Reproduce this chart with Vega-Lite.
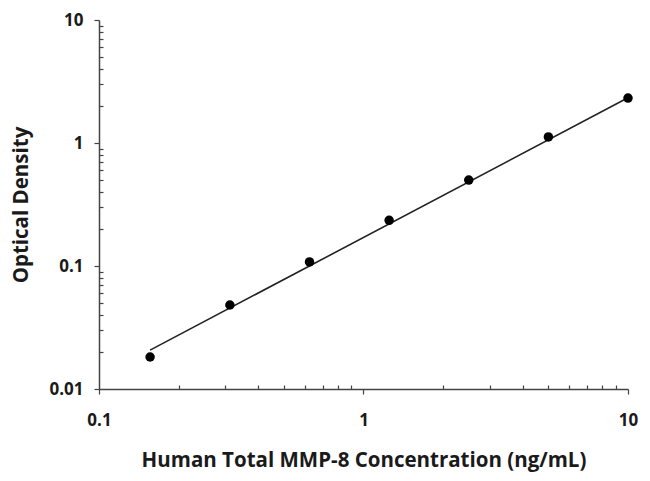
{
  "$schema": "https://vega.github.io/schema/vega-lite/v6.json",
  "width": 529,
  "height": 369,
  "autosize": {"type": "none"},
  "padding": {"left": 99, "top": 20, "right": 22, "bottom": 92},
  "background": "white",
  "config": {
    "view": {"stroke": null},
    "axis": {"grid": false, "domainColor": "#444", "tickColor": "#444", "domainWidth": 1.5, "tickWidth": 1.2, "labelFont": "Open Sans", "titleFont": "Open Sans", "labelFontWeight": "bold", "titleFontWeight": "bold", "labelColor": "#1a1a1a", "titleColor": "#1a1a1a"}
  },
  "datasets": {
    "pts": [
      {"conc": 0.156, "od": 0.0182},
      {"conc": 0.3125, "od": 0.0482},
      {"conc": 0.625, "od": 0.108},
      {"conc": 1.25, "od": 0.235},
      {"conc": 2.5, "od": 0.50},
      {"conc": 5, "od": 1.12},
      {"conc": 10, "od": 2.32}
    ],
    "fit": [
      {"conc": 0.156, "od": 0.0207},
      {"conc": 10, "od": 2.33}
    ]
  },
  "layer": [
    {
      "data": {"name": "fit"},
      "mark": {"type": "line", "color": "#222", "strokeWidth": 1.6},
      "encoding": {
        "x": {"field": "conc", "type": "quantitative", "scale": {"type": "log", "domain": [0.1, 10]},
          "axis": {"values": [0.1, 0.2, 0.3, 0.4, 0.5, 0.6, 0.7, 0.8, 0.9, 1, 2, 3, 4, 5, 6, 7, 8, 9, 10],
            "labelExpr": "indexof([0.1, 1, 10], datum.value) >= 0 ? datum.label : ''",
            "format": "~g",
            "tickSize": {"condition": {"test": "indexof([0.1, 1, 10], datum.value) >= 0", "value": 5}, "value": -4},
            "labelFontSize": 17, "labelPadding": 18, "labelFlush": false, "labelOverlap": false,
            "title": "Human Total MMP-8 Concentration (ng/mL)", "titleFontSize": 20.5, "titlePadding": 22}},
        "y": {"field": "od", "type": "quantitative", "scale": {"type": "log", "domain": [0.01, 10]},
          "axis": {"values": [0.01, 0.02, 0.03, 0.04, 0.05, 0.06, 0.07, 0.08, 0.09, 0.1, 0.2, 0.3, 0.4, 0.5, 0.6, 0.7, 0.8, 0.9, 1, 2, 3, 4, 5, 6, 7, 8, 9, 10],
            "labelExpr": "indexof([0.01, 0.1, 1, 10], datum.value) >= 0 ? datum.label : ''",
            "format": "~g",
            "tickSize": {"condition": {"test": "indexof([0.01, 0.1, 1, 10], datum.value) >= 0", "value": 5}, "value": -4},
            "labelFontSize": 17, "labelPadding": 11, "labelFlush": false, "labelOverlap": false,
            "title": "Optical Density", "titleFontSize": 20.5, "titlePadding": 17}}
      }
    },
    {
      "data": {"name": "pts"},
      "mark": {"type": "point", "filled": true, "color": "#000", "opacity": 1, "size": 90},
      "encoding": {
        "x": {"field": "conc", "type": "quantitative"},
        "y": {"field": "od", "type": "quantitative"}
      }
    }
  ]
}
